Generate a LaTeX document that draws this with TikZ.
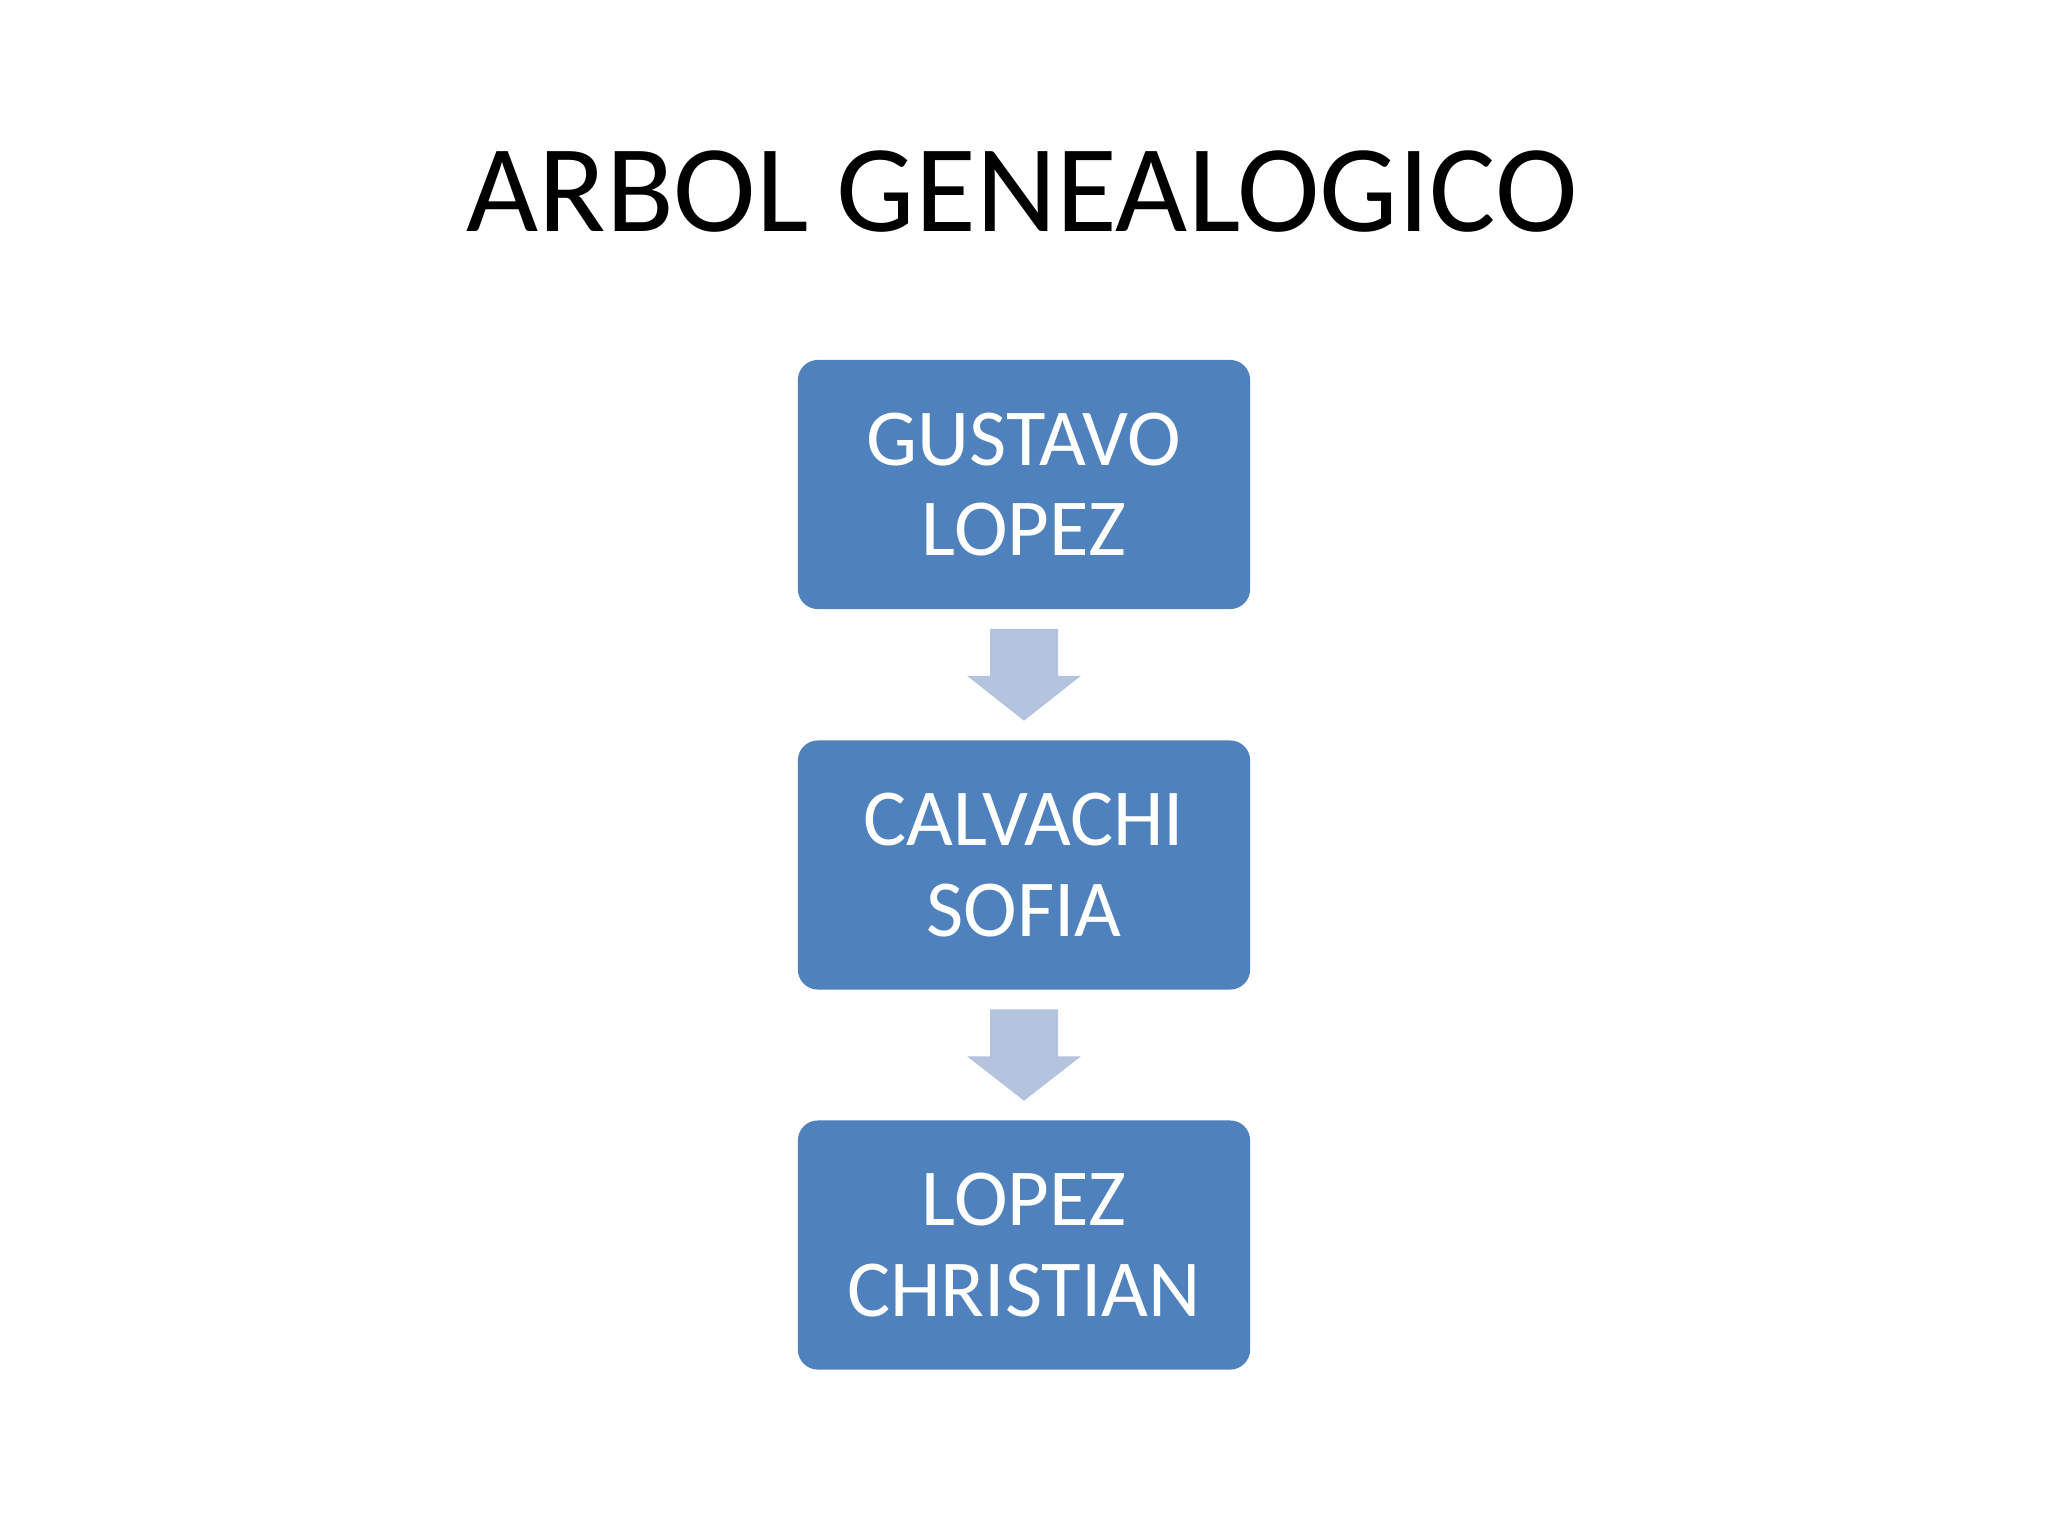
\documentclass[tikz,border=0pt]{standalone}
\usepackage{fontspec}
\setmainfont{Carlito}
\usetikzlibrary{calc}
\definecolor{boxblue}{HTML}{4F81BD}
\definecolor{arrowblue}{HTML}{B4C3DE}
\begin{document}
\begin{tikzpicture}[x=0.01cm,y=-0.01cm,
  person/.style={fill=boxblue,draw=none,rounded corners=0.2cm,minimum width=4.52cm,minimum height=2.49cm,inner sep=0pt,text=white,align=center,font=\fontsize{23}{25.8}\selectfont},
  downarrow/.style={fill=arrowblue,draw=none}]
\useasboundingbox (0,0) rectangle (2048,1536);
\fill[white] (0,0) rectangle (2048,1536);
\node[anchor=base,font=\fontsize{35.4}{40}\selectfont] (title) at (1022,231) {ARBOL GENEALOGICO};
\node[person] (b1) at (1024,484.5) {GUSTAVO\\LOPEZ};
\node[person] (b2) at (1024,865) {CALVACHI\\SOFIA};
\node[person] (b3) at (1024,1245) {LOPEZ\\CHRISTIAN};
\foreach \a/\b in {b1/b2,b2/b3}{
  \coordinate (s) at ($(\a.south)+(0,19)$);
  \coordinate (t) at ($(\b.north)+(0,-19)$);
  \fill[downarrow] ($(s)+(-34,0)$) -- ($(s)+(34,0)$) -- ($(s)+(34,47)$) -- ($(s)+(57,47)$) -- (t) -- ($(s)+(-57,47)$) -- ($(s)+(-34,47)$) -- cycle;
}
\end{tikzpicture}
\end{document}
